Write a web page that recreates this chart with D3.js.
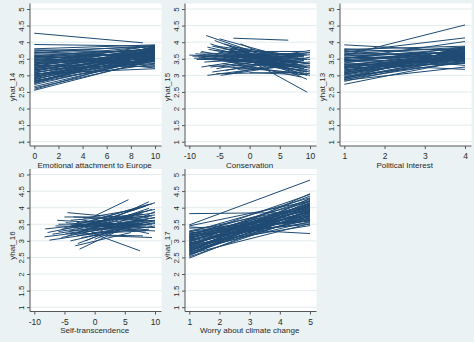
<!DOCTYPE html>
<html lang="en">
<head>
<meta charset="utf-8">
<title>Predicted values by predictor</title>
<script src="https://d3js.org/d3.v7.min.js"></script>
<style>
  body { margin: 0; background: #eaf2f3; }
  svg text { font-family: "Liberation Sans", Arial, sans-serif; fill: #2a2a2a; }
</style>
</head>
<body>
<div id="chart"></div>
<script>
"use strict";

// panel titles and ticks
var xTitles = ["Emotional attachment to Europe", "Conservation", "Political Interest",
               "Self-transcendence", "Worry about climate change"];
var yTitles = ["yhat_14", "yhat_15", "yhat_13", "yhat_16", "yhat_17"];
var xTickSets = [[0, 2, 4, 6, 8, 10], [-10, -5, 0, 5, 10], [1, 2, 3, 4],
                 [-10, -5, 0, 5, 10], [1, 2, 3, 4, 5]];
var yTicks = [1, 1.5, 2, 2.5, 3, 3.5, 4, 4.5, 5];

// one fitted line per group: [x start, yhat start, x end, yhat end]
var linesEurope = [
  [0,4.27,9,3.98],[0,3.93,10,3.88],[0,3.80,10,3.92],[0,3.77,10,3.70],[0,3.74,10,3.86],
  [0,3.71,10,3.55],[0,3.68,10,3.90],[0,3.65,10,3.62],[0,3.62,10,3.22],[0,3.60,10,3.78],
  [0,3.57,10,3.45],[0,3.55,10,3.88],[0,3.52,10,3.66],[0,3.50,10,3.30],[0,3.47,10,3.82],
  [0,3.45,10,3.58],[0,3.42,10,3.74],[0,3.40,10,3.40],[0,3.37,10,3.90],[0,3.35,10,3.52],
  [0,3.32,10,3.68],[0,3.30,10,3.26],[0,3.27,10,3.84],[0,3.25,10,3.60],[0,3.22,10,3.46],
  [0,3.20,10,3.76],[0,3.17,10,3.36],[0,3.15,10,3.64],[0,3.12,10,3.86],[0,3.10,10,3.50],
  [0,3.07,10,3.72],[0,3.05,10,3.20],[0,3.02,10,3.58],[0,3.00,10,3.80],[0,2.97,10,3.42],
  [0,2.95,10,3.66],[0,2.92,10,3.88],[0,2.90,10,3.54],[0,2.87,10,3.70],[0,2.85,10,3.34],
  [0,2.82,10,3.62],[0,2.80,10,3.78],[0,2.77,10,3.48],[0,2.75,10,3.84],[0,2.72,10,3.56],
  [0,2.66,10,3.52],[0,2.62,10,3.44],[0,2.58,10,3.60],[0,2.55,10,3.48],
  [0,3.69,10,3.74],[0,3.58,10,3.62],[0,3.48,10,3.70],[0,3.38,10,3.64],[0,3.28,10,3.72],
  [0,3.18,10,3.55],[0,3.08,10,3.66],[0,2.98,10,3.60],[0,2.88,10,3.74],[0,2.78,10,3.66],
  [0,3.53,10,3.80],[0,3.33,10,3.82],[0,3.13,10,3.78],[0,2.93,10,3.72],[0,3.43,10,3.50],
  [0,3.23,10,3.68],[0,3.03,10,3.46],[0,2.83,10,3.52]
];
var linesConservation = [
  [-10,3.61,0,3.55],[-9.5,3.58,6,3.50],[-9,3.65,9,3.40],[-8.5,3.55,8,3.30],[-8,3.25,10,3.75],
  [-8,3.72,9.5,3.10],[-7.5,3.40,7,3.60],[-7.2,4.20,4,3.50],[-7,3.85,9,3.20],[-7,3.00,8,3.35],
  [-6.8,3.30,10,3.05],[-6.5,3.95,9.5,3.00],[-6.5,3.60,9,3.65],[-6.2,3.10,7.5,3.45],[-6,3.75,10,3.48],
  [-6,3.50,8.5,2.95],[-5.8,4.05,6,3.25],[-5.5,3.20,10,3.70],[-5.5,3.88,8,3.55],[-5.2,3.45,9.5,3.15],
  [-5,4.10,3,3.70],[-5,3.65,10,3.35],[-4.8,3.00,6.5,3.30],[-4.5,3.80,9,3.60],[-4.5,3.35,8,3.05],
  [-4.2,3.95,9.5,3.25],[-4,3.55,10,3.10],[-4,3.15,7,3.50],[-3.8,3.72,9,3.72],[-3.5,3.90,9.5,2.88],
  [-3.5,3.42,8.5,3.40],[-3.2,3.05,10,3.55],[-3,3.75,9.55,2.49],[-3,3.60,7,3.15],[-2.8,3.28,9,3.45],
  [-2.7,4.12,6.4,4.06],[-2.5,3.85,8,3.58],[-2.2,3.50,10,3.00],[-2,3.18,9,3.28],[-1.8,3.68,9.5,3.62],
  [-1.5,3.95,5.5,3.40],[-1,3.30,10,3.40],[-0.5,3.55,8.5,3.12],[0,3.08,9.5,3.02],[-8.8,3.48,5,3.45],
  [-7.8,3.58,10,3.22],[-6.2,3.88,7,3.38],[-5.5,3.05,9,3.10],
  [-9.2,3.52,7,3.42],[-8.2,3.68,9,3.55],[-7.5,3.50,10,3.30],[-7,3.62,8.5,3.48],[-6.8,3.78,9.5,3.35],
  [-6.2,3.42,10,3.62],[-5.8,3.58,9,3.20],[-5.2,3.70,8,3.42],[-4.8,3.48,10,3.25],[-4.2,3.62,9,3.50],
  [-3.8,3.55,10,3.68],[-3.2,3.82,8.5,3.30],[-2.5,3.40,9.5,3.48],[-2,3.62,10,3.15],[-6.5,3.25,9,3.58]
];
var linesInterest = [
  [1,3.60,4,4.52],[1,3.92,4,3.72],[1,3.70,4,4.13],[1,3.50,4,4.02],[1,3.80,4,3.62],
  [1,3.78,4,3.88],[1,3.75,4,3.45],[1,3.72,4,3.80],[1,3.68,4,3.55],[1,3.65,4,3.85],
  [1,3.62,4,3.30],[1,3.58,4,3.70],[1,3.55,4,3.50],[1,3.52,4,3.82],[1,3.48,4,3.62],
  [1,3.45,4,3.40],[1,3.42,4,3.76],[1,3.40,4,3.56],[1,3.37,4,3.86],[1,3.35,4,3.18],
  [1,3.32,4,3.66],[1,3.30,4,3.48],[1,3.27,4,3.80],[1,3.25,4,3.58],[1,3.22,4,3.36],
  [1,3.20,4,3.72],[1,3.17,4,3.52],[1,3.15,4,3.64],[1,3.12,4,3.84],[1,3.10,4,3.44],
  [1,3.07,4,3.68],[1,3.05,4,3.54],[1,3.02,4,3.78],[1,3.00,4,3.60],[1,2.97,4,3.38],
  [1,2.95,4,3.70],[1,2.92,4,3.50],[1,2.90,4,3.82],[1,2.87,4,3.62],[1,2.85,4,3.25],
  [1,2.82,4,3.56],[1,2.73,4,3.45],
  [1,3.63,4,3.68],[1,3.53,4,3.60],[1,3.43,4,3.66],[1,3.33,4,3.52],[1,3.23,4,3.70],
  [1,3.13,4,3.58],[1,3.03,4,3.64],[1,2.93,4,3.56],[1,3.47,4,3.74],[1,3.27,4,3.46],
  [1,3.08,4,3.78],[1,2.88,4,3.42]
];
var linesTranscendence = [
  [-8.2,3.36,2,3.55],[-8.3,3.12,4,3.40],[-7.5,3.02,3,3.30],[-7,3.20,8,3.62],[-6.5,3.45,9,3.40],
  [-6,3.28,10,3.70],[-5.5,3.10,6,3.55],[-5,3.72,1,3.72],[-5,3.40,10,3.85],[-4.8,3.55,7,3.35],
  [-4.5,3.15,9.5,3.95],[-4.2,3.30,10,3.52],[-4,3.62,8,3.80],[-4,3.00,7,3.45],[-3.8,3.45,9,4.10],
  [-3.5,3.72,10,3.60],[-3.5,3.20,8.5,3.30],[-3.2,2.85,6,3.25],[-3,3.55,9.5,3.75],[-3,3.35,10,4.15],
  [-2.8,2.92,8,3.65],[-2.5,2.75,5,3.40],[-2.5,3.65,9,3.22],[-2.2,3.10,10,3.45],[-2,3.42,8.5,4.05],
  [-2,3.25,9.5,3.58],[-1.8,3.68,7,3.95],[-1.5,3.00,10,3.88],[-1.2,3.50,9,3.50],[-1,3.18,8,3.15],
  [-1,3.38,10,3.30],[-0.5,3.60,9.5,4.12],[0,3.75,5.6,4.24],[0,3.20,7.5,2.70],[0,3.05,9,3.68],
  [0.5,3.45,10,3.62],[1,3.30,8,3.90],[1.5,3.55,9,4.18],[-6.2,3.62,5,3.50],[-7.8,3.25,6.5,3.78],
  [-4.5,3.85,7.5,3.65],[2,3.15,9.5,3.10],[-2.8,3.50,10,3.40],
  [-5.5,3.35,9,3.72],[-4.8,3.22,10,3.60],[-4,3.48,9.5,3.48],[-3.5,3.38,8,3.85],[-3,3.15,10,3.55],
  [-2.5,3.28,9,3.98],[-2,3.55,10,3.78],[-1.5,3.35,8.5,3.45],[-1,3.52,10,3.95],[-0.5,3.25,9,3.35],
  [0,3.40,10,3.70],[-6,3.50,8,3.52]
];
var linesClimate = [
  [1,3.48,5,4.83],[1,3.82,4,3.85],[1,3.42,5,3.22],[1,3.45,5,4.20],[1,3.38,5,3.60],
  [1,3.30,5,4.05],[1,3.28,5,3.75],[1,3.26,5,4.30],[1,3.24,5,3.60],[1,3.22,5,3.92],
  [1,3.20,5,4.18],[1,3.18,5,3.50],[1,3.16,5,3.85],[1,3.14,5,4.40],[1,3.12,5,3.68],
  [1,3.10,5,4.00],[1,3.08,5,3.80],[1,3.06,5,4.25],[1,3.04,5,3.55],[1,3.02,5,3.95],
  [1,3.00,5,4.12],[1,2.98,5,3.72],[1,2.96,5,4.35],[1,2.94,5,3.62],[1,2.92,5,3.88],
  [1,2.90,5,4.08],[1,2.88,5,3.46],[1,2.86,5,3.98],[1,2.84,5,4.22],[1,2.82,5,3.78],
  [1,2.80,5,4.42],[1,2.78,5,3.65],[1,2.76,5,3.90],[1,2.74,5,4.15],[1,2.72,5,3.58],
  [1,2.70,5,4.02],[1,2.68,5,4.28],[1,2.66,5,3.70],[1,2.64,5,3.84],[1,2.62,5,4.10],
  [1,2.60,5,3.52],[1,2.58,5,3.94],[1,2.55,5,4.20],[1,2.52,5,3.76],[1,2.48,5,3.90],
  [1,3.19,5,4.02],[1,3.09,5,3.92],[1,2.99,5,4.05],[1,2.89,5,3.86],[1,2.79,5,3.98],
  [1,2.69,5,3.82],[1,2.59,5,4.06],[1,3.13,5,4.10],[1,2.93,5,3.74],[1,2.73,5,3.88],
  [1,3.05,5,3.66],[1,2.85,5,4.14]
];
var lineSets = [linesEurope, linesConservation, linesInterest, linesTranscendence, linesClimate];

var larguraSVG = 474, alturaSVG = 342;
var colWidth = 155, rowHeight = 165.5;
// inner geometry of one panel (relative to its top-left corner)
var plot = {left: 30, right: 161.5, top: 3.5, bottom: 146},
    dataX = [34.3, 155], dataY = [141.7, 9];

var svg = d3.select("#chart").append("svg")
    .attr("width", larguraSVG)
    .attr("height", alturaSVG);

svg.append("rect")
    .attr("width", larguraSVG)
    .attr("height", alturaSVG)
    .attr("fill", "#eaf2f3");

lineSets.forEach(function(segs, i) {
  var col = i % 3, row = Math.floor(i / 3);
  var g = svg.append("g")
      .attr("transform", "translate(" + (col * colWidth) + "," + (row * rowHeight) + ")");

  var x = d3.scaleLinear().domain(d3.extent(xTickSets[i])).range(dataX);
  var y = d3.scaleLinear().domain([1, 5]).range(dataY);

  // plot region
  g.append("rect")
      .attr("x", plot.left).attr("y", plot.top)
      .attr("width", plot.right - plot.left)
      .attr("height", plot.bottom - plot.top)
      .attr("fill", "#fff");

  // horizontal grid
  g.selectAll(".grid").data(yTicks).join("line")
      .attr("class", "grid")
      .attr("x1", plot.left).attr("x2", plot.right)
      .attr("y1", d => y(d)).attr("y2", d => y(d))
      .attr("stroke", "#e3ebed").attr("stroke-width", 1);

  // fitted lines
  g.selectAll(".seg").data(segs).join("line")
      .attr("class", "seg")
      .attr("x1", d => x(d[0])).attr("y1", d => y(d[1]))
      .attr("x2", d => x(d[2])).attr("y2", d => y(d[3]))
      .attr("stroke", "#1e4a73").attr("stroke-width", 1);

  // axes
  var yAxis = g.append("g")
      .attr("transform", "translate(" + plot.left + ",0)")
      .call(d3.axisLeft(y).tickValues(yTicks).tickSize(3).tickSizeOuter(0)
            .tickFormat(d => String(d)));
  yAxis.select(".domain").remove();
  yAxis.selectAll("line").attr("stroke", "#555");
  yAxis.selectAll("text")
      .attr("x", null).attr("dy", null)
      .attr("text-anchor", "middle")
      .attr("font-size", 8)
      .attr("transform", "translate(-6.5,0) rotate(-90)");

  var xAxis = g.append("g")
      .attr("transform", "translate(0," + plot.bottom + ")")
      .call(d3.axisBottom(x).tickValues(xTickSets[i]).tickSize(3).tickSizeOuter(0)
            .tickFormat(d => String(d)));
  xAxis.select(".domain").remove();
  xAxis.selectAll("line").attr("stroke", "#555");
  xAxis.selectAll("text")
      .attr("y", 13).attr("dy", null)
      .attr("font-size", 8.5);

  g.append("line")
      .attr("x1", plot.left).attr("x2", plot.left)
      .attr("y1", plot.top).attr("y2", plot.bottom)
      .attr("stroke", "#555");
  g.append("line")
      .attr("x1", plot.left).attr("x2", plot.right)
      .attr("y1", plot.bottom).attr("y2", plot.bottom)
      .attr("stroke", "#555");

  // titles
  g.append("text")
      .attr("x", (dataX[0] + dataX[1]) / 2)
      .attr("y", 167.5)
      .attr("text-anchor", "middle")
      .attr("font-size", 8)
      .text(xTitles[i]);
  g.append("text")
      .attr("transform", "translate(14.5," + (row === 0 ? 87 : 80) + ") rotate(-90)")
      .attr("text-anchor", "middle")
      .attr("font-size", 8)
      .text(yTitles[i]);
});
</script>
</body>
</html>
